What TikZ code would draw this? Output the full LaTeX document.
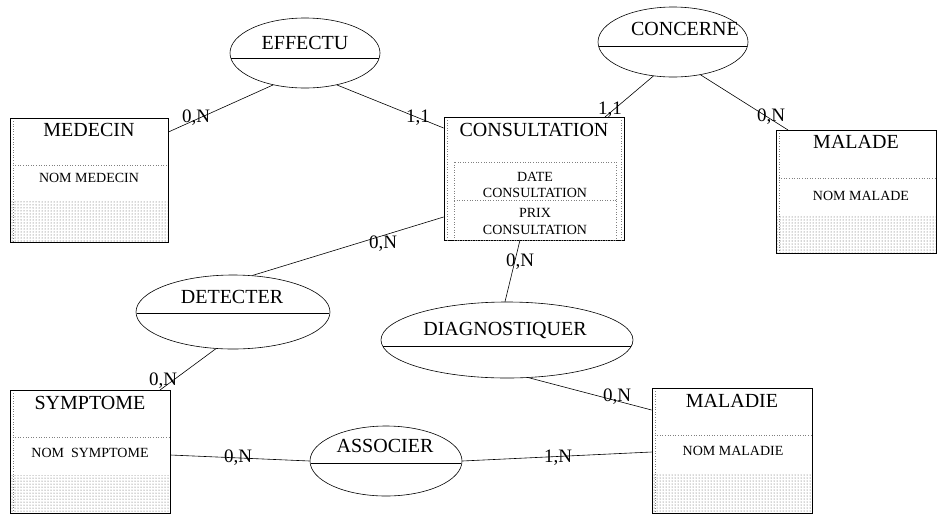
\documentclass[tikz,border=0pt]{standalone}
\usepackage{fontspec}
\setmainfont{Liberation Serif}
\usetikzlibrary{patterns,shapes.geometric}
\begin{document}
\begin{tikzpicture}[x=1pt,y=-1pt,
  ttl/.style={font=\fontsize{20}{22}\selectfont,inner sep=0},
  att/.style={font=\fontsize{14}{16}\selectfont,inner sep=0,align=center},
  card/.style={font=\fontsize{19}{21}\selectfont,inner sep=0},
  rel/.style={draw,ellipse,line width=0.6pt},
  ln/.style={line width=0.6pt},
  dotl/.style={dotted,line width=0.6pt,gray}]
\useasboundingbox (0,0) rectangle (944,520);
\newcommand{\entity}[9]{%
  \fill[pattern=dots,pattern color=black!70] (#2,#9) rectangle (#4,#5);
  \draw[dotl] (#2+3,#3+3) -- (#2+3,#5);
  \draw[dotl] (#2,#7) -- (#4,#7);
  \node[draw,line width=0.8pt,minimum width=0,inner sep=0,fit={(#2,#3)(#4,#5)}] (#1) {};
}
\usetikzlibrary{fit}
% MEDECIN
\entity{medecin}{10}{118}{168}{242}{}{165}{}{200}
\node[ttl] at (89,130) {MEDECIN};
\node[att] at (89,178) {NOM MEDECIN};
% CONSULTATION
\node[draw,line width=0.8pt,inner sep=0,minimum width=180pt,minimum height=123pt] (consult) at (534,178.5) {};
\draw[dotl] (454,162) rectangle (616,240);
\draw[dotl] (454,200) -- (616,200);
\draw[dotl] (447,120) -- (447,240);
\draw[dotl] (621,120) -- (621,240);
\node[ttl] at (534,130) {CONSULTATION};
\node[att] at (535,177) {DATE};
\node[att] at (535,193) {CONSULTATION};
\node[att] at (535,213) {PRIX};
\node[att] at (535,230) {CONSULTATION};
% MALADE
\entity{malade}{776}{130}{936}{253}{}{178}{}{215}
\node[ttl] at (856,142) {MALADE};
\node[att] at (861,196) {NOM MALADE};
% SYMPTOME
\entity{symptome}{10}{390}{170}{513}{}{437}{}{475}
\node[ttl] at (90,403) {SYMPTOME};
\node[att] at (90,453) {NOM\ \ SYMPTOME};
% MALADIE
\entity{maladie}{652}{388}{812}{513}{}{435}{}{473}
\node[ttl] at (732,401) {MALADIE};
\node[att] at (733,451) {NOM MALADIE};
% relations
\node[rel,minimum width=150pt,minimum height=70pt] (effectu) at (305,53) {};
\draw[ln] (231,58) -- (379,58);
\node[ttl] at (305,43) {EFFECTU};
\node[rel,minimum width=150pt,minimum height=70pt] (concerne) at (673,42) {};
\draw[ln] (599,46) -- (747,46);
\node[ttl] at (685,29) {CONCERNE};
\node[rel,minimum width=194pt,minimum height=74pt] (detecter) at (233,312) {};
\draw[ln] (137,313) -- (329,313);
\node[ttl] at (232,297) {DETECTER};
\node[rel,minimum width=252pt,minimum height=76pt] (diag) at (507,340) {};
\draw[ln] (383,346) -- (631,346);
\node[ttl] at (505,330) {DIAGNOSTIQUER};
\node[rel,minimum width=152pt,minimum height=70pt] (associer) at (386,461) {};
\draw[ln] (311,463) -- (461,463);
\node[ttl] at (385,446) {ASSOCIER};
% connectors
\draw[ln] (medecin.east |- 0,132) -- (effectu.-135);
\draw[ln] (effectu.-45) -- (consult.west |- 0,128);
\draw[ln] (concerne.-120) -- (605,117) coordinate (c1);
\draw[ln] (concerne.-50) -- (788,130) coordinate (c2);
\draw[ln] (consult.west |- 0,217) -- (detecter.62);
\draw[ln] (detecter.-115) -- (160,390) coordinate (c3);
\draw[ln] (520,240) coordinate (c4) -- (diag.93);
\draw[ln] (diag.-60) -- (maladie.west |- 0,410);
\draw[ln] (symptome.east |- 0,455) -- (associer.west);
\draw[ln] (associer.east) -- (maladie.west |- 0,452);
% cardinalities
\node[card] at (196,118) {0,N};
\node[card] at (418,118) {1,1};
\node[card] at (610,110) {1,1};
\node[card] at (771,117) {0,N};
\node[card] at (383,244) {0,N};
\node[card] at (520,262) {0,N};
\node[card] at (163,381) {0,N};
\node[card] at (617,397) {0,N};
\node[card] at (238,458) {0,N};
\node[card] at (558,458) {1,N};
\end{tikzpicture}
\end{document}
